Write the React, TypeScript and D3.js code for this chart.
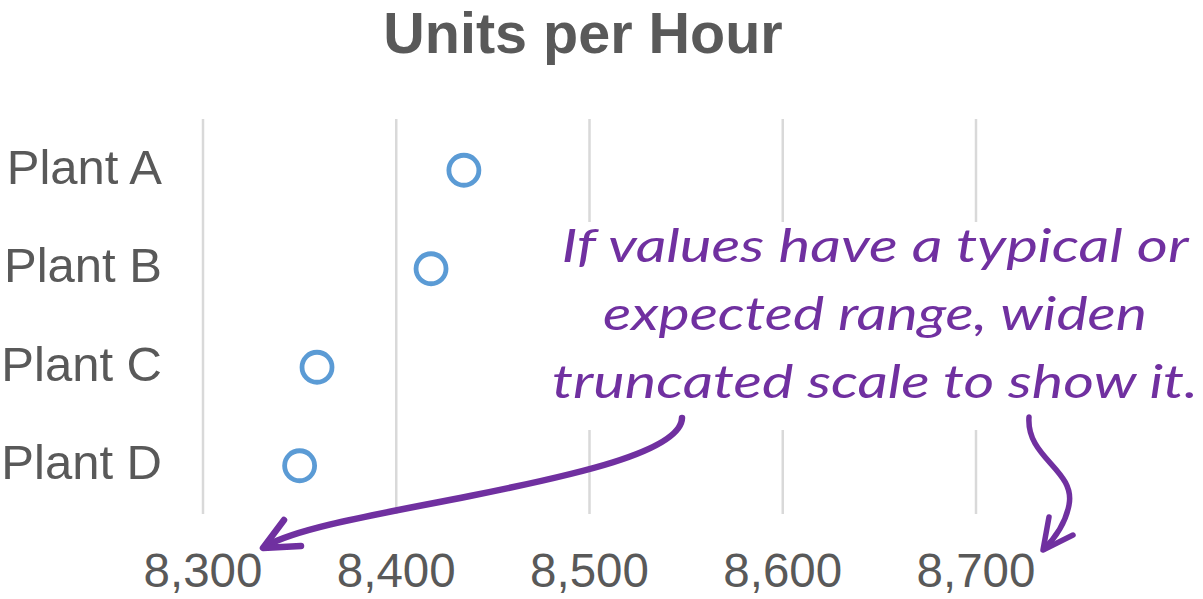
import React from "react";
import * as d3 from "d3";

const plants = ["Plant A", "Plant B", "Plant C", "Plant D"];
const unitsPerHour = [8435, 8418, 8359, 8350];
const xTicks = [8300, 8400, 8500, 8600, 8700];
const title = "Units per Hour";
const noteLines = [
  "If values have a typical or",
  "expected range, widen",
  "truncated scale to show it.",
];
const noteWidths = [627, 544, 646];

const W = 1203;
const H = 599;
const GRAY = "#595959";
const GRID = "#d9d9d9";
const BLUE = "#5b9bd5";
const PURPLE = "#7030a0";

export default function App() {
  const x = d3.scaleLinear().domain([8300, 8700]).range([203, 976]);
  const y = d3.scaleBand<string>().domain(plants).range([121, 515]);
  const fmt = d3.format(",");

  const leftArrow = d3.path();
  leftArrow.moveTo(682, 418);
  leftArrow.bezierCurveTo(681, 452, 570, 476, 470, 496);
  leftArrow.bezierCurveTo(380, 514, 300, 527, 266, 546);

  const rightArrow = d3.path();
  rightArrow.moveTo(1029, 417);
  rightArrow.bezierCurveTo(1026, 458, 1076, 470, 1069, 505);
  rightArrow.bezierCurveTo(1065, 526, 1053, 540, 1044, 549);

  return (
    <svg
      width={W}
      height={H}
      style={{ position: "absolute", left: 0, top: 0, display: "block", background: "#fff" }}
      fontFamily="'Liberation Sans', Arial, sans-serif"
    >
      <rect x={0} y={0} width={W} height={H} fill="#fff" />
      <text x={583} y={53} textAnchor="middle" fontSize={57.5} fontWeight="bold" fill={GRAY}>
        {title}
      </text>
      {xTicks.map((t) => (
        <line key={t} x1={x(t)} x2={x(t)} y1={119} y2={514} stroke={GRID} strokeWidth={2.5} />
      ))}
      {xTicks.map((t) => (
        <text key={"l" + t} x={x(t)} y={587} textAnchor="middle" fontSize={47.5} fill={GRAY}>
          {fmt(t)}
        </text>
      ))}
      {plants.map((p) => (
        <text
          key={p}
          x={162}
          y={(y(p) ?? 0) + y.bandwidth() / 2 + 13.5}
          textAnchor="end"
          fontSize={49}
          fill={GRAY}
        >
          {p}
        </text>
      ))}
      {plants.map((p, i) => (
        <circle
          key={"c" + p}
          cx={x(unitsPerHour[i])}
          cy={(y(p) ?? 0) + y.bandwidth() / 2}
          r={15}
          fill="#fff"
          stroke={BLUE}
          strokeWidth={4.8}
        />
      ))}
      <rect x={545} y={222} width={658} height={208} fill="#fff" />
      {noteLines.map((l, i) => (
        <text
          key={l}
          x={875}
          y={262 + i * 68}
          textAnchor="middle"
          fontSize={46}
          fontStyle="italic"
          fill={PURPLE}
          fontFamily="'Segoe Print', 'Comic Sans MS', Lato, 'Open Sans', sans-serif"
          textLength={noteWidths[i]}
          lengthAdjust="spacingAndGlyphs"
        >
          {l}
        </text>
      ))}
      <path d={leftArrow.toString()} fill="none" stroke={PURPLE} strokeWidth={6.5} strokeLinecap="round" />
      <path d="M284,520 L263,548 L301,546" fill="none" stroke={PURPLE} strokeWidth={6.5} strokeLinecap="round" strokeLinejoin="round" />
      <path d={rightArrow.toString()} fill="none" stroke={PURPLE} strokeWidth={5.5} strokeLinecap="round" />
      <path d="M1049,517 L1043,550 L1073,535" fill="none" stroke={PURPLE} strokeWidth={5.5} strokeLinecap="round" strokeLinejoin="round" />
    </svg>
  );
}
